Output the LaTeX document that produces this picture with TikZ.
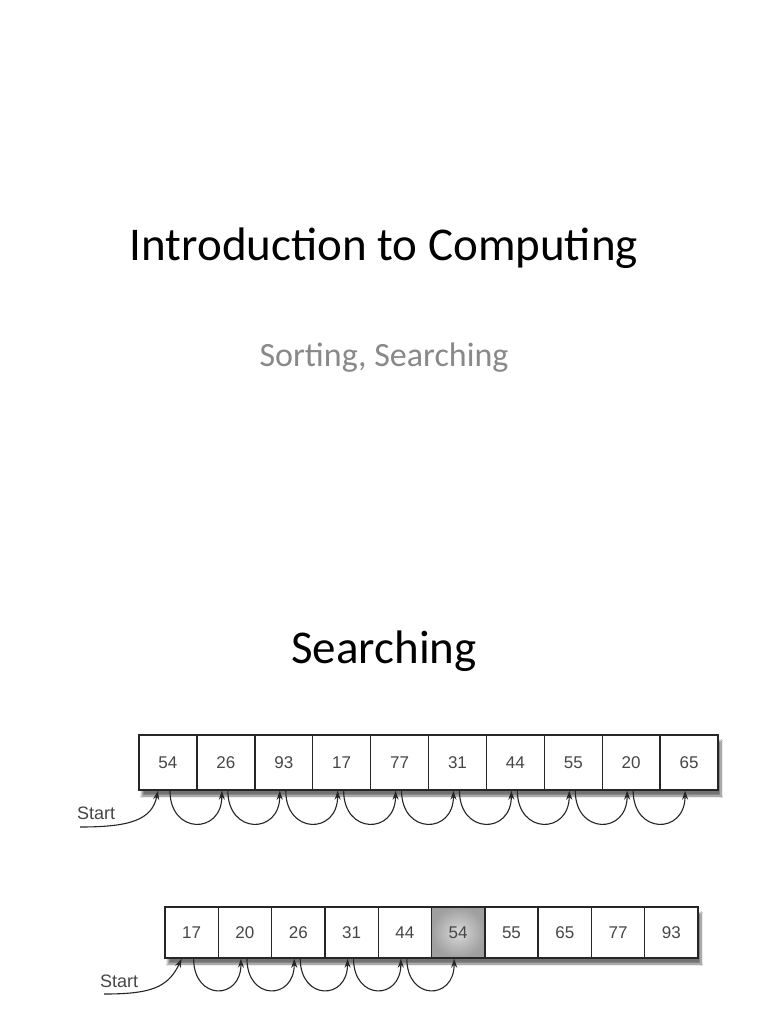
\documentclass[tikz,border=0pt]{standalone}
\usepackage{fontspec}
\setmainfont{Carlito}
\newfontfamily\numfont{Liberation Sans}
\usetikzlibrary{arrows.meta,shadows.blur}
\definecolor{subgray}{RGB}{137,137,137}
\definecolor{numgray}{RGB}{70,70,70}
\tikzset{
  cell/.style={draw=black!85, line width=1.4pt, minimum height=55pt, inner sep=0pt, fill=white,
    font=\numfont\fontsize{17}{20}\selectfont, text=numgray},
  cellA/.style={cell, minimum width=57.9pt},
  cellB/.style={cell, minimum width=53.3pt, minimum height=51pt},
  hop/.style={line width=1.1pt, black!85, -{Stealth[length=9pt,width=6pt]}},
  lbl/.style={font=\numfont\fontsize{18}{20}\selectfont, text=numgray, anchor=base west, inner sep=0pt},
  rowshadow/.style={blur shadow={shadow xshift=3pt, shadow yshift=-6pt, shadow blur steps=10, shadow opacity=55}},
}
\begin{document}
\begin{tikzpicture}[x=1pt,y=-1pt]
\useasboundingbox[fill=white] (0,0) rectangle (768,1024);

\node[anchor=base, inner sep=0pt, font=\fontsize{47}{56}\selectfont] (title) at (384,260) {Introduction to Computing};
\node[anchor=base, inner sep=0pt, font=\fontsize{34}{40}\selectfont, text=subgray] (sub) at (384,366) {Sorting, Searching};
\node[anchor=base, inner sep=0pt, font=\fontsize{47}{56}\selectfont] (head) at (384,663) {Searching};

% first array
\fill[rowshadow, white] (139,735) rectangle (718,790);
\foreach \v [count=\i] in {54,26,93,17,77,31,44,55,20,65}{
  \node[cellA] (a\i) at ({139+57.9*(\i-0.5)},762.5) {\v};
}
\node[lbl] (startA) at (77,819) {Start};
\coordinate (sa) at (80,827);
\draw[hop] (sa) .. controls (130,827) and (152,820) .. ([xshift=-10pt]a1.south);
\foreach \i [evaluate=\i as \j using int(\i+1)] in {1,...,9}{
  \draw[hop] ([xshift=2pt]a\i.south) .. controls +(0,44) and +(0,44) .. ([xshift=-4pt]a\j.south);
}

% second array
\fill[rowshadow, white] (165,907) rectangle (698,958);
\foreach \v [count=\i] in {17,20,26,31,44,54,55,65,77,93}{
  \ifnum\i=6
    \node[cellB, inner color=white!70!gray, outer color=gray!75] (b\i) at ({165+53.3*(\i-0.5)},932.5) {\v};
  \else
    \node[cellB] (b\i) at ({165+53.3*(\i-0.5)},932.5) {\v};
  \fi
}
\node[lbl] (startB) at (100,987) {Start};
\coordinate (sb) at (104,994);
\draw[hop] (sb) .. controls (150,994) and (168,988) .. ([xshift=-10pt]b1.south);
\foreach \i [evaluate=\i as \j using int(\i+1)] in {1,...,5}{
  \draw[hop] ([xshift=2pt]b\i.south) .. controls +(0,42) and +(0,42) .. ([xshift=-4pt]b\j.south);
}
\end{tikzpicture}
\end{document}
